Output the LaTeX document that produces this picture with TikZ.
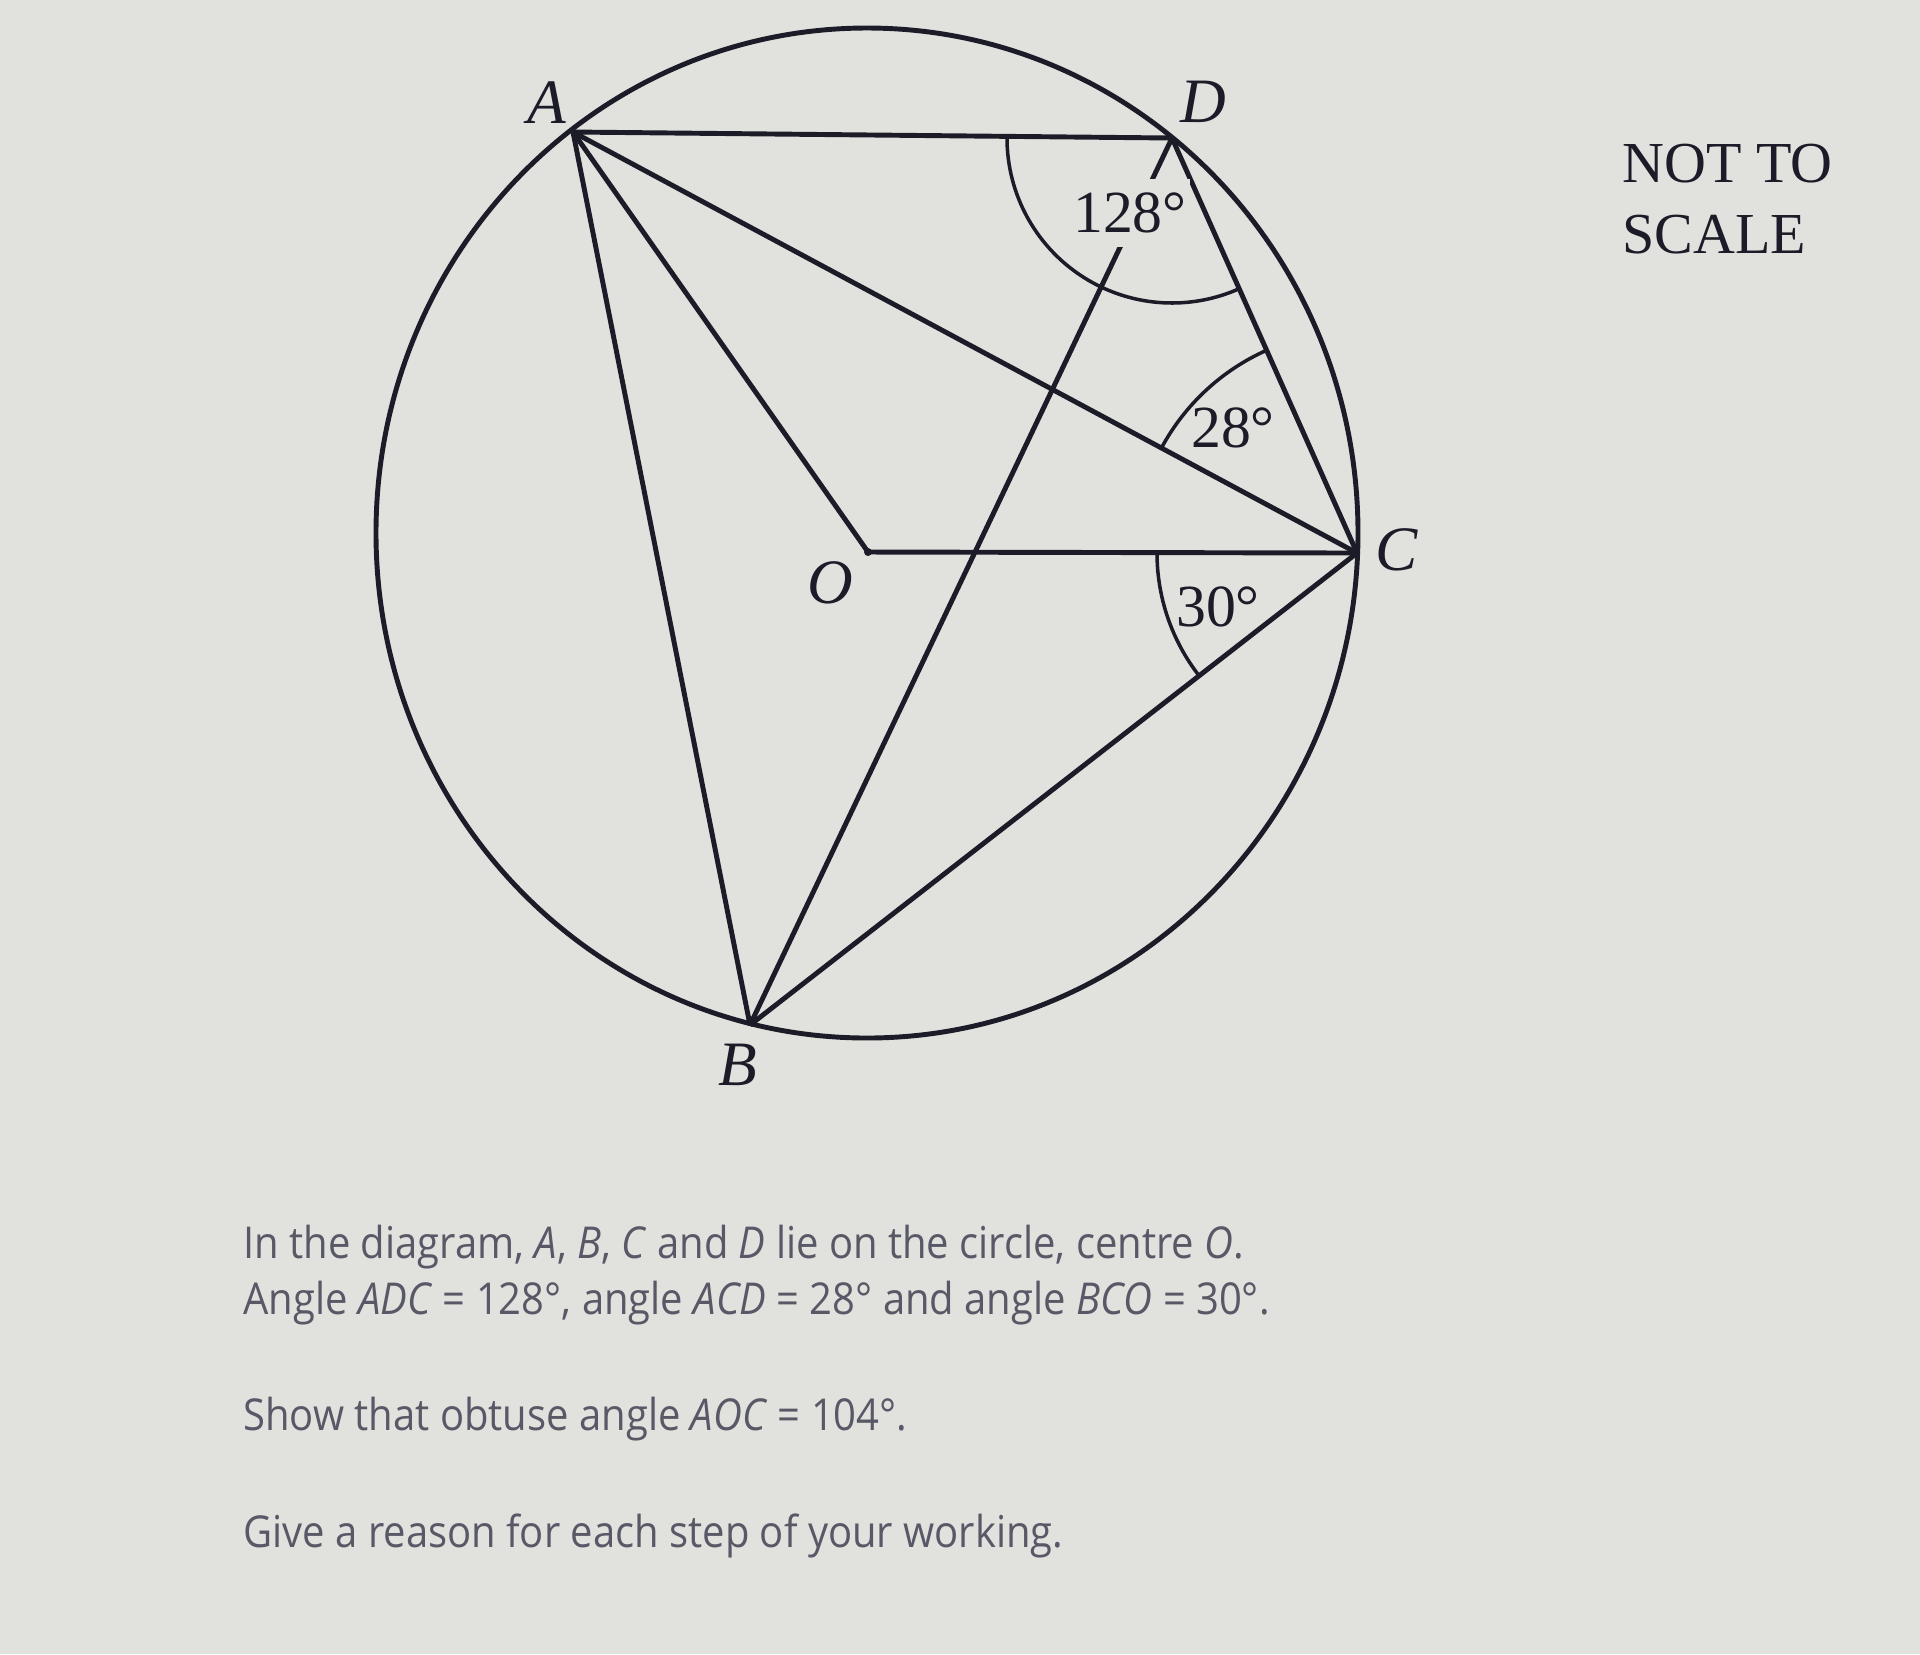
\documentclass[tikz,border=0pt]{standalone}
\usepackage{fontspec}
\setmainfont{Liberation Serif}
\newfontfamily\qfont[FakeStretch=0.91]{Open Sans}
\usetikzlibrary{angles}
\definecolor{paper}{RGB}{225,226,222}
\definecolor{ink}{RGB}{28,28,40}
\definecolor{qtext}{RGB}{88,88,102}

\begin{document}
\begin{tikzpicture}[x=0.1mm,y=0.1mm,line width=1.4pt,draw=ink]
	\def \rx{491}
	\def \ry{505}
	\tikzstyle{pt-label}=[font=\fontsize{18}{21}\selectfont\itshape,text=ink,inner sep=0pt]
	\tikzstyle{deg}=[font=\fontsize{17}{20}\selectfont,text=ink,inner sep=1pt]
	\tikzstyle{note}=[font=\fontsize{16.5}{20}\selectfont,text=ink,anchor=base west,inner sep=0pt]
	\tikzstyle{question}=[font=\qfont\fontsize{12.5}{15}\selectfont,text=qtext,anchor=base west,inner sep=0pt]
	\tikzstyle{anglemark}=[draw=ink,line width=1pt]

	\fill[paper] (0,0) rectangle (1920,-1654);

	% points on the circle
	\coordinate (Z) at (867,-533);
	\coordinate (A) at (573,-132);
	\coordinate (D) at (1172,-138);
	\coordinate (C) at (1357,-553);
	\coordinate (B) at (750,-1025);
	\coordinate (O) at (868,-552);

	\draw (Z) ellipse[x radius=\rx, y radius=\ry];

	\path
		(A)	edge	(D)
		(A)	edge	(C)
		(A)	edge	(O)
		(A)	edge	(B)
		%
		(D)	edge	(C)
		(D)	edge	(B)
		%
		(O)	edge	(C)
		(C)	edge	(B);
	\fill[ink] (O) circle (4);

	% angle marks
	\pic[anglemark,angle radius=16.5mm] {angle=A--D--C};
	\pic[anglemark,angle radius=22.2mm] {angle=D--C--A};
	\pic[anglemark,angle radius=20mm] {angle=O--C--B};

	\node[deg,fill=paper,inner xsep=1pt,inner ysep=4pt]	(dADC)	at (1130,-213)	{128°};
	\node[deg]		(dACD)	at (1233,-428)	{28°};
	\node[deg]		(dBCO)	at (1218,-607)	{30°};

	% labels
	\node[pt-label]	(lA)	at (547,-103)	{A};
	\node[pt-label]	(lD)	at (1203,-102)	{D};
	\node[pt-label]	(lC)	at (1397,-550)	{C};
	\node[pt-label]	(lO)	at (830,-583)	{O};
	\node[pt-label]	(lB)	at (738,-1065)	{B};

	\node[note]	(not)	at (1620,-182)	{NOT TO};
	\node[note]	(scale)	at (1620,-253)	{SCALE};

	% question
	\node[question]	(q1)	at (241,-1258)	{In the diagram, \textit{A}, \textit{B}, \textit{C} and \textit{D} lie on the circle, centre \textit{O}.};
	\node[question]	(q2)	at (241,-1314)	{Angle \textit{ADC} = 128°, angle \textit{ACD} = 28° and angle \textit{BCO} = 30°.};
	\node[question]	(q3)	at (241,-1430)	{Show that obtuse angle \textit{AOC} = 104°.};
	\node[question]	(q4)	at (241,-1547)	{Give a reason for each step of your working.};
\end{tikzpicture}
\end{document}
